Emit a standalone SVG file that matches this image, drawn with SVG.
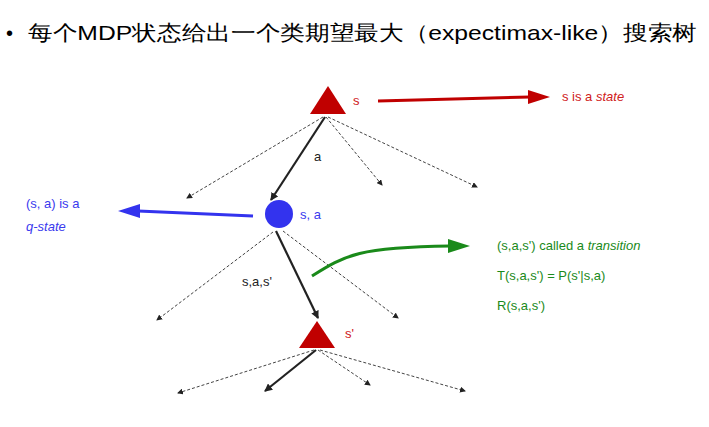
<svg xmlns="http://www.w3.org/2000/svg" width="709" height="427" viewBox="0 0 709 427">
<style>
text{font-family:"Liberation Sans",Arial,sans-serif}
.d{stroke:#444;stroke-width:1;stroke-dasharray:3,2;fill:none;marker-end:url(#sm)}
.s{stroke:#222;stroke-width:2.2;fill:none;marker-end:url(#bm)}
.tri{fill:#c00000}
.r{fill:#d02020;font-size:13px}
.g{fill:#1a8a1a;font-size:13px}
.b{fill:#3a3aee;font-size:13px}
</style>
<defs>
<marker id="sm" markerWidth="6" markerHeight="6" refX="5" refY="3" orient="auto" markerUnits="userSpaceOnUse"><path d="M0,0L6,3L0,6z" fill="#222"/></marker>
<marker id="bm" markerWidth="8" markerHeight="8" refX="7" refY="4" orient="auto" markerUnits="userSpaceOnUse"><path d="M0,0L8,4L0,8z" fill="#222"/></marker>
</defs>
<text x="6" y="40" font-size="20" fill="#000">•</text>
<text x="28" y="40" font-size="21" fill="#000" textLength="669" lengthAdjust="spacingAndGlyphs" font-family="'Liberation Sans','Noto Sans CJK SC',sans-serif">每个MDP状态给出一个类期望最大（expectimax-like）搜索树</text>
<g id="connectors">
<path class="d" d="M323,117L187,198"/>
<path class="d" d="M326,117L382,185"/>
<path class="d" d="M328,117L477,187"/>
<path class="s" d="M325,117L271,200"/>
<path class="d" d="M273,232L157,320"/>
<path class="d" d="M283,231L398,318"/>
<path class="s" d="M276,231L318,318"/>
<path class="d" d="M314,350L178,393"/>
<path class="d" d="M318,350L370,385"/>
<path class="d" d="M320,350L465,391"/>
<path class="s" d="M316,350L265,391"/>
<path d="M378,101L530,97" stroke="#c00000" stroke-width="3" fill="none"/>
<path d="M528,90L550,97L528,104z" fill="#c00000"/>
<path d="M253,216L138,211" stroke="#3333ee" stroke-width="3" fill="none"/>
<path d="M140,204L118,211L140,218z" fill="#3333ee"/>
<path d="M312,276C345,255 360,247 450,246" stroke="#1a8a1a" stroke-width="3" fill="none"/>
<path d="M448,239L470,246L448,253z" fill="#1a8a1a"/>
</g>
<g id="s"><path class="tri" d="M328,86L346,114L310,114z"/><text class="r" x="353" y="105">s</text><text x="314" y="161" font-size="13" fill="#222">a</text></g>
<g id="sa"><circle cx="279" cy="214" r="14" fill="#3333ee"/><text class="b" x="300" y="219">s, a</text><text x="242" y="286" font-size="13" fill="#222">s,a,s'</text></g>
<g id="sp"><path class="tri" d="M317,321L335,348L299,348z"/><text class="r" x="345" y="338">s'</text></g>
<g id="lbl-s"><text class="r" x="562" y="101">s is a <tspan font-style="italic">state</tspan></text></g>
<g id="lbl-q"><text class="b" x="26" y="208">(s, a) is a</text><text class="b" x="26" y="231" font-style="italic">q-state</text></g>
<g id="lbl-t"><text class="g" x="497" y="250">(s,a,s') called a <tspan font-style="italic">transition</tspan></text><text class="g" x="497" y="280">T(s,a,s') = P(s'|s,a)</text><text class="g" x="497" y="310">R(s,a,s')</text></g>
</svg>
